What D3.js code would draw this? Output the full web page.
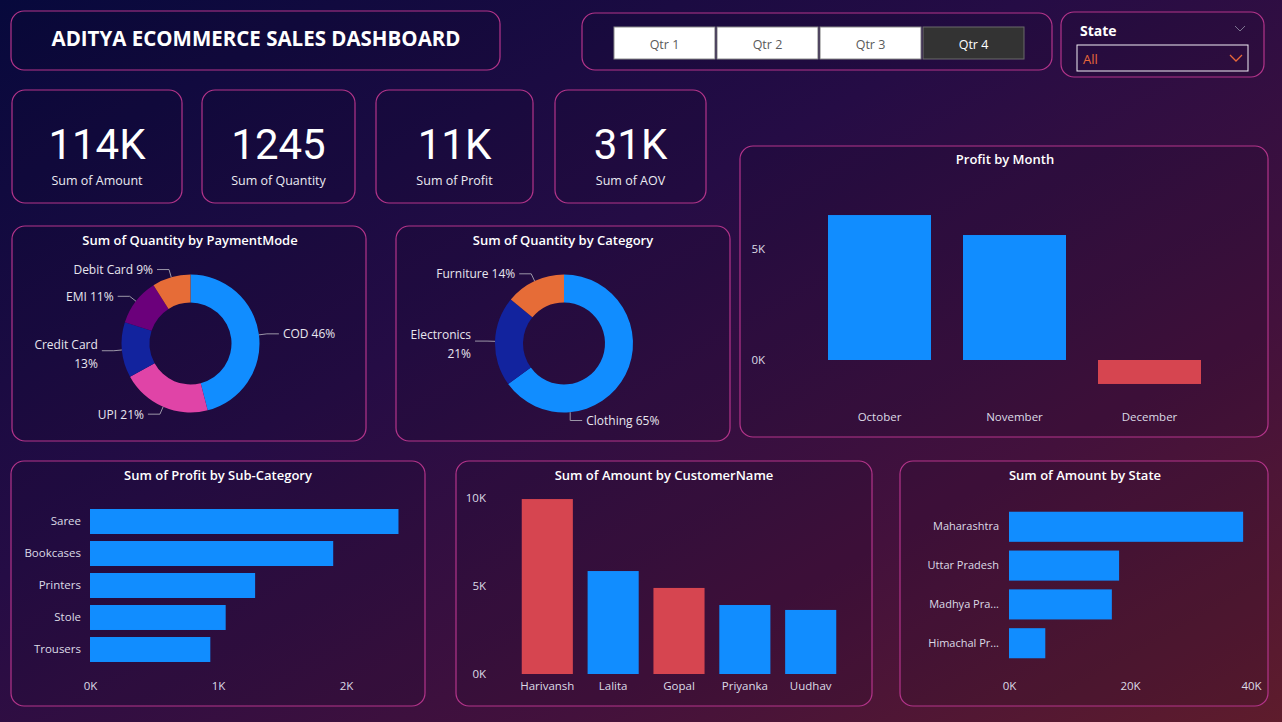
<!DOCTYPE html>
<html>
<head>
<meta charset="utf-8">
<script src="https://cdn.jsdelivr.net/npm/d3@7"></script>
<style>
  html, body { margin: 0; padding: 0; background: #0b0b3b; overflow: hidden; }
  svg { display: block; }
  text { font-family: "Open Sans", "Noto Sans", sans-serif; }
</style>
</head>
<body>
<div id="chart"></div>
<script>
// ---- data ----
var dashTitle = "ADITYA ECOMMERCE SALES DASHBOARD";
var quarters = ["Qtr 1", "Qtr 2", "Qtr 3", "Qtr 4"];
var activeQuarter = "Qtr 4";
var stateFilter = "All";

var kpiValues = ["114K", "1245", "11K", "31K"];
var kpiLabels = ["Sum of Amount", "Sum of Quantity", "Sum of Profit", "Sum of AOV"];

var payModes = ["COD", "UPI", "Credit Card", "EMI", "Debit Card"];
var payShare = [46, 21, 13, 11, 9];

var categories = ["Clothing", "Electronics", "Furniture"];
var catShare = [65, 21, 14];

var months = ["October", "November", "December"];
var monthProfit = [6530, 5630, -1080];

var subCats = ["Saree", "Bookcases", "Printers", "Stole", "Trousers"];
var subCatProfit = [2410, 1900, 1290, 1060, 940];

var customers = ["Harivansh", "Lalita", "Gopal", "Priyanka", "Uudhav"];
var customerAmount = [9940, 5850, 4890, 3920, 3640];
var customerFlagged = ["Harivansh", "Gopal"];

var states = ["Maharashtra", "Uttar Pradesh", "Madhya Pradesh", "Himachal Pradesh"];
var stateAmount = [38700, 18200, 17000, 6000];

// ---- styles ----
var blue = "#118DFF", red = "#D64550";
var payColors = ["#118DFF", "#E044A7", "#12239E", "#6B007B", "#E66C37"];
var catColors = ["#118DFF", "#12239E", "#E66C37"];
var border = "#b3348a";
var axisText = "#dcdbe6";
var kFmt = function(d) { return (d / 1000) + "K"; };

var W = 1282, H = 722;
var svg = d3.select("#chart").append("svg").attr("width", W).attr("height", H);

// background gradient
var defs = svg.append("defs");
var grad = defs.append("linearGradient").attr("id", "bg")
  .attr("x1", 0).attr("y1", 0).attr("x2", 1).attr("y2", 1);
grad.append("stop").attr("offset", "0%").attr("stop-color", "#07093c");
grad.append("stop").attr("offset", "40%").attr("stop-color", "#250c45");
grad.append("stop").attr("offset", "72%").attr("stop-color", "#43113c");
grad.append("stop").attr("offset", "100%").attr("stop-color", "#5e1c2c");
svg.append("rect").attr("width", W).attr("height", H).attr("fill", "url(#bg)");

function card(x, y, w, h) {
  svg.append("rect")
    .attr("x", x).attr("y", y).attr("width", w).attr("height", h)
    .attr("rx", 13).attr("ry", 13)
    .attr("fill", "rgba(15,5,35,0.12)")
    .attr("stroke", border).attr("stroke-width", 1.2);
}
function cardTitle(x, y, t) {
  svg.append("text").attr("x", x).attr("y", y)
    .attr("text-anchor", "middle").attr("dominant-baseline", "central")
    .attr("fill", "#ffffff").attr("font-size", 13).attr("font-weight", 600)
    .text(t);
}

// ---- header ----
card(11, 11, 489, 59);
svg.append("text").attr("x", 256).attr("y", 38)
  .attr("text-anchor", "middle").attr("dominant-baseline", "central")
  .attr("fill", "#fff").attr("font-size", 20.5).attr("font-weight", 700)
  .text(dashTitle);

card(582, 13, 470, 57);
var qx = d3.scaleBand().domain(quarters).range([614, 1024]).paddingInner(0.02);
var qBtn = svg.append("g").selectAll("g").data(quarters).join("g");
qBtn.append("rect")
  .attr("x", function(d) { return qx(d); }).attr("y", 27)
  .attr("width", qx.bandwidth()).attr("height", 32)
  .attr("fill", function(d) { return d === activeQuarter ? "#333333" : "#ffffff"; })
  .attr("stroke", function(d) { return d === activeQuarter ? "#6a6a6a" : "#8a8a8a"; })
  .attr("stroke-width", 1);
qBtn.append("text")
  .attr("x", function(d) { return qx(d) + qx.bandwidth() / 2; }).attr("y", 44)
  .attr("text-anchor", "middle").attr("dominant-baseline", "central")
  .attr("font-size", 12.5)
  .attr("fill", function(d) { return d === activeQuarter ? "#ffffff" : "#5a5a5a"; })
  .text(function(d) { return d; });

card(1061, 12, 203, 65);
svg.append("text").attr("x", 1080).attr("y", 30).attr("dominant-baseline", "central")
  .attr("fill", "#fff").attr("font-size", 14).attr("font-weight", 700).text("State");
svg.append("path").attr("d", "M1235,26 L1240,31 L1245,26")
  .attr("fill", "none").attr("stroke", "#7d7590").attr("stroke-width", 1);
svg.append("rect").attr("x", 1077).attr("y", 45).attr("width", 171).attr("height", 26)
  .attr("fill", "none").attr("stroke", "#f2eef5").attr("stroke-width", 1);
svg.append("text").attr("x", 1083).attr("y", 59).attr("dominant-baseline", "central")
  .attr("fill", "#e8683a").attr("font-size", 13).text(stateFilter);
svg.append("path").attr("d", "M1230,55 L1236,61 L1242,55")
  .attr("fill", "none").attr("stroke", "#e8683a").attr("stroke-width", 1.3);

// ---- KPI cards ----
var kpiBoxes = [[12, 170], [202, 153], [376, 157], [555, 151]];
kpiBoxes.forEach(function(b, i) {
  card(b[0], 90, b[1], 113);
  var cx = b[0] + b[1] / 2;
  svg.append("text").attr("x", cx).attr("y", 144)
    .attr("text-anchor", "middle").attr("dominant-baseline", "central")
    .attr("fill", "#fff").attr("font-size", 42)
    .style("font-family", "Roboto, 'DejaVu Sans', sans-serif")
    .text(kpiValues[i]);
  svg.append("text").attr("x", cx).attr("y", 180)
    .attr("text-anchor", "middle").attr("dominant-baseline", "central")
    .attr("fill", "#ecebf2").attr("font-size", 12.5)
    .text(kpiLabels[i]);
});

// ---- donuts ----
function donut(cx, cy, names, shares, colors, boxL, boxR) {
  var rO = 69, rI = 41;
  var g = svg.append("g");
  var pie = d3.pie().sort(null).value(function(d) { return d.v; });
  var arcs = pie(names.map(function(n, i) { return { n: n, v: shares[i] }; }));
  var arc = d3.arc().innerRadius(rI).outerRadius(rO);
  g.selectAll("path").data(arcs).join("path")
    .attr("transform", "translate(" + cx + "," + cy + ")")
    .attr("d", arc)
    .attr("fill", function(d, i) { return colors[i]; });

  function pt(a, r) { return [cx + r * Math.sin(a), cy - r * Math.cos(a)]; }

  arcs.forEach(function(d) {
    var mid = (d.startAngle + d.endAngle) / 2;
    var side = Math.sin(mid) >= 0 ? 1 : -1;
    var label = d.data.n + " " + d.data.v + "%";
    var a = pt(mid, rO), e = pt(mid, rO + 8);
    var ex = e[0] + side * 12, tx = ex + side * 4, ty = e[1];
    var t = g.append("text")
      .attr("fill", "#e8e6ee").attr("font-size", 12)
      .attr("dominant-baseline", "central")
      .attr("text-anchor", side > 0 ? "start" : "end")
      .attr("x", tx).attr("y", ty).text(label);
    var w = t.node().getComputedTextLength();
    var avail = side > 0 ? boxR - 14 - tx : tx - (boxL + 14);
    var pts = [a, e, [ex, e[1]]];
    if (w > avail) {
      if (d.startAngle < Math.PI && d.endAngle > Math.PI) {
        // slide label to the bottom of the ring
        var ba = Math.PI - 0.09;
        a = pt(ba, rO);
        var by = cy + rO + 8;
        ex = a[0] + 12;
        pts = [a, [a[0], by], [ex, by]];
        t.attr("x", ex + 4).attr("y", by).attr("text-anchor", "start");
      } else {
        t.text(null);
        t.append("tspan").attr("x", tx).attr("y", ty - 7).text(d.data.n);
        t.append("tspan").attr("x", tx).attr("y", ty + 12).text(d.data.v + "%");
      }
    }
    g.insert("path", "text")
      .attr("d", d3.line()(pts))
      .attr("fill", "none").attr("stroke", "#9c97a8").attr("stroke-width", 1);
  });
}

card(12, 226, 354, 215);
cardTitle(190, 240, "Sum of Quantity by PaymentMode");
donut(190.5, 343.5, payModes, payShare, payColors, 12, 366);

card(396, 226, 334, 215);
cardTitle(563, 240, "Sum of Quantity by Category");
donut(564, 343.5, categories, catShare, catColors, 396, 730);

// ---- Profit by Month ----
card(740, 146, 528, 291);
cardTitle(1005, 159, "Profit by Month");
var mx = d3.scaleBand().domain(months).range([796, 1233]).padding(0.237);
var my = d3.scaleLinear().domain([-2000, 7000]).range([404.4, 204.6]);
var mg = svg.append("g");
mg.selectAll("rect").data(months).join("rect")
  .attr("x", function(d) { return mx(d); })
  .attr("width", mx.bandwidth())
  .attr("y", function(d, i) { return my(Math.max(0, monthProfit[i])); })
  .attr("height", function(d, i) { return Math.abs(my(monthProfit[i]) - my(0)); })
  .attr("fill", function(d, i) { return monthProfit[i] < 0 ? red : blue; });
svg.append("g").attr("transform", "translate(765,0)")
  .call(d3.axisLeft(my).tickValues([0, 5000]).tickFormat(kFmt).tickSize(0).tickPadding(0));
var mxAxis = svg.append("g").attr("transform", "translate(0,417)")
  .call(d3.axisBottom(mx).tickSize(0).tickPadding(0));
mxAxis.selectAll("text").attr("y", 0).attr("dy", "0.35em");

// ---- Sum of Profit by Sub-Category ----
card(11, 461, 414, 245);
cardTitle(218, 475, "Sum of Profit by Sub-Category");
var sx = d3.scaleLinear().domain([0, 2000]).range([90, 346]);
var sy = d3.scaleBand().domain(subCats).range([502, 669]).padding(0.219);
svg.append("g").selectAll("rect").data(subCats).join("rect")
  .attr("x", sx(0)).attr("y", function(d) { return sy(d); })
  .attr("width", function(d, i) { return sx(subCatProfit[i]) - sx(0); })
  .attr("height", sy.bandwidth()).attr("fill", blue);
var sxAxis = svg.append("g").attr("transform", "translate(0,686)")
  .call(d3.axisBottom(sx).tickValues([0, 1000, 2000]).tickFormat(kFmt).tickSize(0).tickPadding(0));
sxAxis.selectAll("text").attr("y", 0).attr("dy", "0.35em");
svg.append("g").attr("transform", "translate(81,0)")
  .call(d3.axisLeft(sy).tickSize(0).tickPadding(0));

// ---- Sum of Amount by CustomerName ----
card(456, 461, 416, 245);
cardTitle(664, 475, "Sum of Amount by CustomerName");
var cx = d3.scaleBand().domain(customers).range([507, 851]).padding(0.224);
var cy = d3.scaleLinear().domain([0, 10000]).range([674, 498]);
svg.append("g").selectAll("rect").data(customers).join("rect")
  .attr("x", function(d) { return cx(d); }).attr("width", cx.bandwidth())
  .attr("y", function(d, i) { return cy(customerAmount[i]); })
  .attr("height", function(d, i) { return cy(0) - cy(customerAmount[i]); })
  .attr("fill", function(d) { return customerFlagged.indexOf(d) >= 0 ? red : blue; });
svg.append("g").attr("transform", "translate(486,0)")
  .call(d3.axisLeft(cy).tickValues([0, 5000, 10000]).tickFormat(kFmt).tickSize(0).tickPadding(0));
var cxAxis = svg.append("g").attr("transform", "translate(0,686)")
  .call(d3.axisBottom(cx).tickSize(0).tickPadding(0));
cxAxis.selectAll("text").attr("y", 0).attr("dy", "0.35em");

// ---- Sum of Amount by State ----
card(900, 461, 368, 245);
cardTitle(1085, 475, "Sum of Amount by State");
var tx = d3.scaleLinear().domain([0, 40000]).range([1009, 1251]);
var ty = d3.scaleBand().domain(states).range([503, 667]).padding(0.225);
svg.append("g").selectAll("rect").data(states).join("rect")
  .attr("x", tx(0)).attr("y", function(d) { return ty(d); })
  .attr("width", function(d, i) { return tx(stateAmount[i]) - tx(0); })
  .attr("height", ty.bandwidth()).attr("fill", blue);
var txAxis = svg.append("g").attr("transform", "translate(0,686)")
  .call(d3.axisBottom(tx).tickValues([0, 20000, 40000]).tickFormat(kFmt).tickSize(0).tickPadding(0));
txAxis.selectAll("text").attr("y", 0).attr("dy", "0.35em");
var tyAxis = svg.append("g").attr("transform", "translate(999,0)")
  .call(d3.axisLeft(ty).tickSize(0).tickPadding(0));

// common axis look
svg.selectAll(".domain").remove();
svg.selectAll(".tick text")
  .attr("fill", axisText).attr("font-size", 11.5)
  .style("font-family", "'Open Sans', 'Noto Sans', sans-serif");
tyAxis.selectAll("text").attr("font-size", 11);

// truncate long state names like the visual does
tyAxis.selectAll("text").each(function() {
  var el = d3.select(this), s = el.text();
  while (this.getComputedTextLength() > 76 && s.length > 1) {
    s = s.slice(0, -1);
    el.text(s.trim() + "...");
  }
});
</script>
</body>
</html>
